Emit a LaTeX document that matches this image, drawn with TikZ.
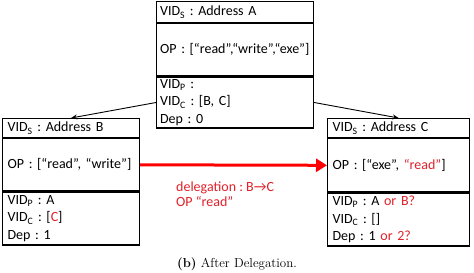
\documentclass[tikz,border=0pt]{standalone}
\usepackage{fontspec}
\usepackage{xcolor}
\usetikzlibrary{arrows.meta,positioning}
\newfontfamily\carlito{Carlito}
\definecolor{DelRed}{HTML}{E0202A}
\frenchspacing
\tikzset{
  row/.style={draw, line width=1.2pt, anchor=north west, align=left,
              inner xsep=5pt, inner ysep=0pt,
              font=\carlito\fontsize{14}{17.5}\selectfont},
  link/.style={-{Stealth[length=6pt,width=5pt]}, line width=0.9pt},
}

\begin{document}
\begin{tikzpicture}[x=1pt,y=-1pt]
  \useasboundingbox (0,0) rectangle (474,273);
  % parent A
  \node[row, inner xsep=3.5pt, text width=150pt, minimum height=21pt] (Ahead) at (156,1)
    {VID\textsubscript{S} : Address A};
  \node[row, inner xsep=3.5pt, text width=150pt, minimum height=52pt] (Aop) at (Ahead.south west)
    {OP : [“read”,“write”,“exe”]};
  \node[row, inner xsep=3.5pt, text width=150pt, minimum height=51pt] (Ainfo) at (Aop.south west)
    {VID\textsubscript{P} :\\VID\textsubscript{C} : [B, C]\\Dep : 0};
  % child B
  \node[row, text width=127pt, minimum height=19pt] (Bhead) at (2,118)
    {VID\textsubscript{S} : Address B};
  \node[row, text width=127pt, minimum height=52pt] (Bop) at (Bhead.south west)
    {OP : [“read”, “write”]};
  \node[row, text width=127pt, minimum height=53pt] (Binfo) at (Bop.south west)
    {VID\textsubscript{P} : A\\VID\textsubscript{C} : [\textcolor{DelRed}{C}]\\Dep : 1};
  % child C
  \node[row, text width=132pt, minimum height=19pt] (Chead) at (327,118)
    {VID\textsubscript{S} : Address C};
  \node[row, text width=132pt, minimum height=53pt] (Cop) at (Chead.south west)
    {OP : [“exe”, \textcolor{DelRed}{“read”}]};
  \node[row, text width=132pt, minimum height=53pt] (Cinfo) at (Cop.south west)
    {VID\textsubscript{P} : A \textcolor{DelRed}{or B?}\\VID\textsubscript{C} : []\\Dep : 1 \textcolor{DelRed}{or 2?}};
  % links
  \draw[link] (Ainfo.west) -- (Bhead.north);
  \draw[link] (Ainfo.east) -- (Chead.north);
  % delegation
  \draw[-{Triangle[length=11pt,width=13pt]}, red, line width=3pt] (Bop.east) -- (Cop.west);
  \node[anchor=west, align=left, text=DelRed, inner sep=0pt,
        font=\carlito\fontsize{14}{15.5}\selectfont] (deleg) at (176,194)
    {delegation : B\textrightarrow C\\OP “read”};
  \node[font=\fontsize{13}{15}\selectfont] (cap) at (237,264)
    {\textbf{(b)} After Delegation.};
\end{tikzpicture}
\end{document}
